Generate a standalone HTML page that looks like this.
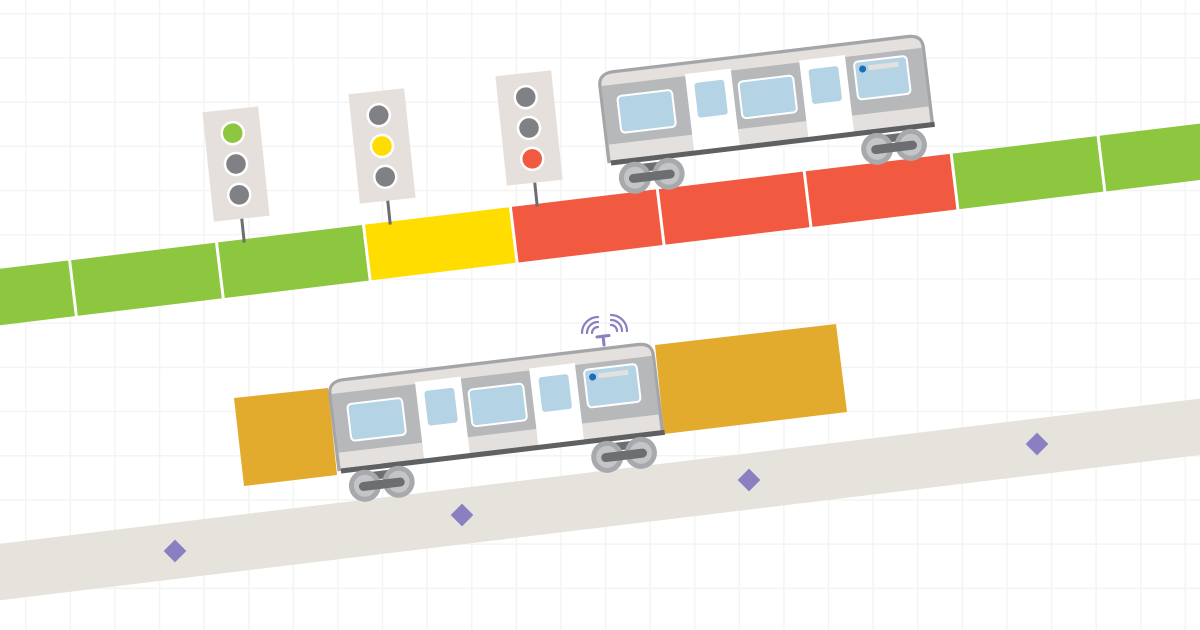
<!DOCTYPE html>
<html><head><meta charset="utf-8"><style>html,body{margin:0;padding:0;background:#fff}svg{display:block}</style></head>
<body>
<svg width="1200" height="630" viewBox="0 0 1200 630" xmlns="http://www.w3.org/2000/svg">
<defs>
<pattern id="grid" x="25" y="13" width="44.6" height="44.2" patternUnits="userSpaceOnUse">
<path d="M0 0V44.2M0 0H44.6" stroke="#f4f4f4" stroke-width="3" fill="none"/>
</pattern>
<g id="bogie">
<rect x="-4" y="-2" width="40" height="8" fill="#6d6e71"/>
<circle cx="0" cy="11" r="16" fill="#a7a9ac"/>
<circle cx="0" cy="11" r="11" fill="#c4c5c7"/>
<circle cx="34" cy="11" r="16" fill="#a7a9ac"/>
<circle cx="34" cy="11" r="11" fill="#c4c5c7"/>
<rect x="-6" y="7" width="46" height="9" rx="4.5" fill="#6d6e71"/>
</g>
<g id="train">
<path d="M-6 -2 V-78 Q-6 -90 8 -91 H306 Q320 -91 320 -78 V-2 Z" fill="#b7b8ba" stroke="#a4a5a8" stroke-width="3"/>
<path d="M-4 -79 V-80 Q-4 -88 8 -89 H306 Q318 -89 318 -80 V-79 Z" fill="#e4e0dd"/>
<path d="M-4 -78 Q-4 -89 8 -89 H306 Q318 -89 318 -78 Z" fill="#e4e0dd"/>
<rect x="-4" y="-19" width="322" height="16" fill="#e4e0dd"/>
<rect x="80" y="-80" width="46" height="78" fill="#fff"/>
<rect x="195" y="-80" width="46" height="78" fill="#fff"/>
<rect x="10" y="-66" width="55" height="37" rx="4" fill="#b4d4e6" stroke="#fff" stroke-width="2"/>
<rect x="132" y="-66" width="55" height="37" rx="4" fill="#b4d4e6" stroke="#fff" stroke-width="2"/>
<rect x="88" y="-70" width="30" height="35" rx="3" fill="#b4d4e6"/>
<rect x="203" y="-70" width="30" height="35" rx="3" fill="#b4d4e6"/>
<rect x="249" y="-72" width="53" height="38" rx="4" fill="#b4d4e6" stroke="#fff" stroke-width="2"/>
<circle cx="257" cy="-64" r="3.5" fill="#1b6db5"/>
<rect x="263" y="-67" width="30" height="5" fill="#e4e0dd"/>
<rect x="-4" y="-3" width="326" height="5" fill="#5f6062"/>
<use href="#bogie" x="18" y="6"/>
<use href="#bogie" x="262" y="6"/>
</g>
<g id="light">
<rect x="-28" y="-55" width="56" height="110" fill="#e6e0dc"/>
<rect x="-1.5" y="55" width="3" height="24" fill="#6d6e71"/>
</g>
</defs>
<rect width="1200" height="630" fill="#fff"/>
<rect width="1200" height="630" fill="url(#grid)"/>

<g transform="translate(0,572) rotate(-6.9)">
<rect x="-50" y="-28" width="1350" height="56" fill="#e6e2dc"/>
</g>
<g fill="#8a7fc1">
<rect x="-8" y="-8" width="16" height="16" transform="translate(175,551) rotate(45)"/>
<rect x="-8" y="-8" width="16" height="16" transform="translate(462,515) rotate(45)"/>
<rect x="-8" y="-8" width="16" height="16" transform="translate(749,480) rotate(45)"/>
<rect x="-8" y="-8" width="16" height="16" transform="translate(1037,444) rotate(45)"/>
</g>

<polygon points="234,398 328,388 337,475 244,486" fill="#e3ab2e"/>
<polygon points="655,345 836,324 847,412 664,434" fill="#e3ab2e"/>

<g transform="translate(0,297) rotate(-6.9)">
<rect x="-100" y="-28" width="172" height="56" fill="#8dc63f"/>
<rect x="75" y="-28" width="145" height="56" fill="#8dc63f"/>
<rect x="223" y="-28" width="145" height="56" fill="#8dc63f"/>
<rect x="371" y="-28" width="145" height="56" fill="#ffdd00"/>
<rect x="519" y="-28" width="145" height="56" fill="#f15a40"/>
<rect x="667" y="-28" width="145" height="56" fill="#f15a40"/>
<rect x="815" y="-28" width="145" height="56" fill="#f15a40"/>
<rect x="963" y="-28" width="145" height="56" fill="#8dc63f"/>
<rect x="1111" y="-28" width="200" height="56" fill="#8dc63f"/>
</g>

<g transform="translate(236,164) rotate(-6)">
<use href="#light"/>
<circle cx="0" cy="-31" r="11" fill="#8dc63f" stroke="#fff" stroke-width="2.5"/>
<circle cx="0" cy="0" r="11" fill="#808184" stroke="#fff" stroke-width="2.5"/>
<circle cx="0" cy="31" r="11" fill="#808184" stroke="#fff" stroke-width="2.5"/>
</g>
<g transform="translate(382,146) rotate(-6)">
<use href="#light"/>
<circle cx="0" cy="-31" r="11" fill="#808184" stroke="#fff" stroke-width="2.5"/>
<circle cx="0" cy="0" r="11" fill="#ffdd00" stroke="#fff" stroke-width="2.5"/>
<circle cx="0" cy="31" r="11" fill="#808184" stroke="#fff" stroke-width="2.5"/>
</g>
<g transform="translate(529,128) rotate(-6)">
<use href="#light"/>
<circle cx="0" cy="-31" r="11" fill="#808184" stroke="#fff" stroke-width="2.5"/>
<circle cx="0" cy="0" r="11" fill="#808184" stroke="#fff" stroke-width="2.5"/>
<circle cx="0" cy="31" r="11" fill="#f15a40" stroke="#fff" stroke-width="2.5"/>
</g>

<g transform="translate(615,163) rotate(-6.8)"><use href="#train"/></g>
<g transform="translate(345,471) rotate(-6.8)"><use href="#train"/></g>

<g stroke="#8a7fc1" stroke-width="2.2" fill="none" stroke-linecap="round">
<path d="M597 337 L609 335.5 M603 336 L604 345" stroke-width="3"/>
<path d="M592 333 A6 6 0 0 1 598 327"/>
<path d="M587 333 A11 11 0 0 1 598 322"/>
<path d="M582 333 A16 16 0 0 1 598 317"/>
<path d="M611 325 A6 6 0 0 1 617 331"/>
<path d="M611 320 A11 11 0 0 1 622 331"/>
<path d="M611 315 A16 16 0 0 1 627 331"/>
</g>
</svg>
</body></html>
